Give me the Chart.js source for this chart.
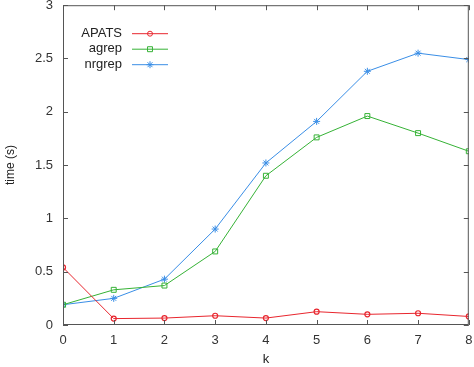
<!DOCTYPE html>
<html><head><meta charset="utf-8">
<script src="https://cdn.jsdelivr.net/npm/chart.js@4/dist/chart.umd.min.js"></script>
<style>html,body{margin:0;padding:0;background:#fff}#wrap{width:474px;height:367px}</style>
</head><body><div id="wrap"><canvas id="c" width="474" height="367"></canvas></div>
<script>
const kValues = [0, 1, 2, 3, 4, 5, 6, 7, 8];
const apats  = [0.54, 0.06, 0.065, 0.087, 0.065, 0.125, 0.10, 0.11, 0.08];
const agrep  = [0.19, 0.33, 0.37, 0.69, 1.40, 1.76, 1.96, 1.80, 1.63];
const nrgrep = [0.19, 0.25, 0.43, 0.90, 1.52, 1.91, 2.38, 2.55, 2.49];
const yTicks = [0, 0.5, 1, 1.5, 2, 2.5, 3];
const yTickLabels = ['0', '0.5', '1', '1.5', '2', '2.5', '3'];
const seriesNames = ['APATS', 'agrep', 'nrgrep'];

const FONT = "'Liberation Sans', Arial, sans-serif";
const toXY = arr => arr.map((v, i) => ({x: kValues[i], y: v}));

const frame = {
  id: 'frame',
  afterDraw(chart) {
    const {ctx, chartArea: a, scales} = chart;
    ctx.save();
    ctx.strokeStyle = '#555';
    ctx.lineWidth = 1;
    ctx.strokeRect(a.left + 0.5, a.top + 0.5, a.right - a.left - 1, a.bottom - a.top - 1);
    ctx.beginPath();
    const tl = 5;
    kValues.forEach(v => {
      const x = Math.round(scales.x.getPixelForValue(v)) + 0.5;
      ctx.moveTo(x, a.bottom); ctx.lineTo(x, a.bottom - tl);
      ctx.moveTo(x, a.top); ctx.lineTo(x, a.top + tl);
    });
    yTicks.forEach(v => {
      const y = Math.round(scales.y.getPixelForValue(v)) + 0.5;
      ctx.moveTo(a.left, y); ctx.lineTo(a.left + tl, y);
      ctx.moveTo(a.right, y); ctx.lineTo(a.right - tl, y);
    });
    ctx.stroke();
    // legend
    ctx.font = '13px ' + FONT;
    ctx.textAlign = 'right';
    ctx.textBaseline = 'middle';
    chart.data.datasets.forEach((ds, i) => {
      const y = a.top + 28 + i * 15.5;
      const tx = 122;
      ctx.fillStyle = '#222';
      ctx.fillText(ds.label, tx, y);
      ctx.strokeStyle = ds.borderColor;
      ctx.lineWidth = 1;
      ctx.beginPath(); ctx.moveTo(132, y + 0.5); ctx.lineTo(168, y + 0.5); ctx.stroke();
      ctx.fillStyle = 'rgba(255,255,255,0)';
      ctx.strokeStyle = ds.borderColor;
      Chart.helpers.drawPoint(ctx, {pointStyle: ds.pointStyle, radius: ds.pointRadius, borderWidth: 1, rotation: 0}, 150, y + 0.5);
    });
    ctx.restore();
  }
};

new Chart(document.getElementById('c'), {
  type: 'line',
  data: {
    datasets: [
      {label: seriesNames[0], data: toXY(apats), borderColor: '#e8262e', pointBackgroundColor: 'rgba(255,255,255,0)', pointBorderColor: '#e8262e', pointStyle: 'circle', pointRadius: 2.5, borderWidth: 1, pointBorderWidth: 1.2},
      {label: seriesNames[1], data: toXY(agrep), borderColor: '#36b236', pointBackgroundColor: 'rgba(255,255,255,0)', pointBorderColor: '#36b236', pointStyle: 'rect', pointRadius: 3.5, borderWidth: 1, pointBorderWidth: 1},
      {label: seriesNames[2], data: toXY(nrgrep), borderColor: '#3a8ee6', pointBackgroundColor: 'rgba(255,255,255,0)', pointBorderColor: '#3a8ee6', pointStyle: 'star', pointRadius: 3.5, borderWidth: 1, pointBorderWidth: 1}
    ]
  },
  options: {
    responsive: false,
    animation: false,
    devicePixelRatio: 1,
    layout: {padding: {top: 5, right: 2, left: 0, bottom: 0}},
    plugins: {legend: {display: false}, tooltip: {enabled: false}},
    elements: {line: {tension: 0}},
    scales: {
      x: {
        type: 'linear', min: 0, max: 8,
        grid: {display: false, drawTicks: false},
        border: {display: false},
        afterBuildTicks: s => { s.ticks = kValues.map(v => ({value: v})); },
        afterFit: s => { s.height = 42; s.paddingLeft = 0; s.paddingRight = 0; },
        ticks: {padding: 8, color: '#333', font: {family: FONT, size: 13}, callback: v => String(v)},
        title: {display: true, text: 'k', color: '#222', font: {family: FONT, size: 13}, padding: {top: 2, bottom: 0}}
      },
      y: {
        type: 'linear', min: 0, max: 3,
        grid: {display: false, drawTicks: false},
        border: {display: false},
        afterBuildTicks: s => { s.ticks = yTicks.map(v => ({value: v})); },
        afterFit: s => { s.width = 63; s.paddingTop = 0; s.paddingBottom = 0; },
        ticks: {padding: 10, color: '#333', font: {family: FONT, size: 13}, callback: (v) => yTickLabels[yTicks.indexOf(v)]},
        title: {display: true, text: 'time (s)', color: '#222', font: {family: FONT, size: 12}, padding: {top: 3, bottom: 0}}
      }
    }
  },
  plugins: [frame]
});
</script>
</body></html>
